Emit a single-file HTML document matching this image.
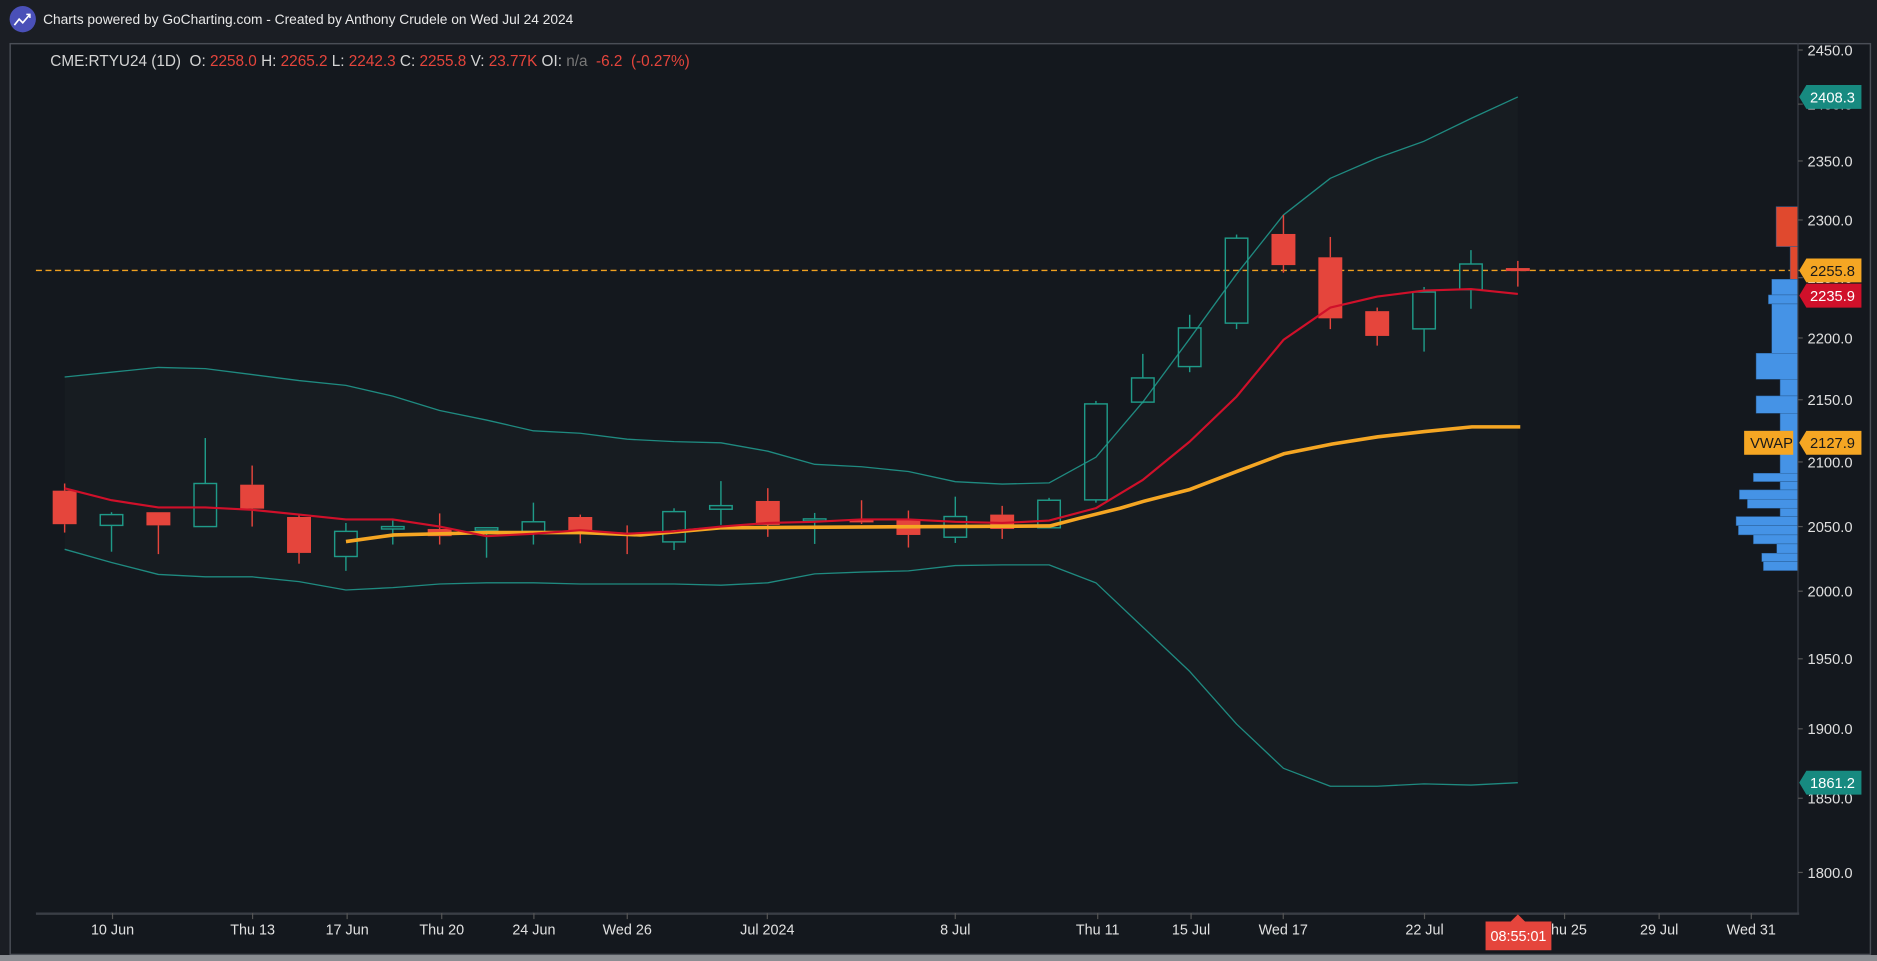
<!DOCTYPE html>
<html><head><meta charset="utf-8"><style>
html,body{margin:0;padding:0;background:#1b1e24;overflow:hidden}
svg{display:block}
text{font-family:"Liberation Sans",sans-serif}
</style></head><body>
<svg id="s" width="1877" height="961" viewBox="0 0 1568 803" preserveAspectRatio="none" xmlns="http://www.w3.org/2000/svg">
<rect x="0" y="0" width="1568" height="803" fill="#1b1e24"/>
<rect x="8.5" y="36.5" width="1554" height="761" fill="#14181e" stroke="#4a4e56" stroke-width="1.2"/>
<rect x="0" y="798" width="1568" height="5" fill="#8a8d92"/>
<circle cx="19" cy="16" r="11" fill="#4a50b8"/>
<polyline points="12,21 16,16 19,19 25,12" fill="none" stroke="#fff" stroke-width="1.4"/>
<polyline points="22,12 25,12 25,15" fill="none" stroke="#fff" stroke-width="1.2"/>
<text x="36" y="20" font-size="11.5" fill="#e8e8e8">Charts powered by GoCharting.com - Created by Anthony Crudele on Wed Jul 24 2024</text>
<g id="g"></g>
<text x="42" y="55" font-size="12.8" fill="#d4d4d4" xml:space="preserve">CME:RTYU24 (1D)  O: <tspan fill="#e5453c">2258.0</tspan> H: <tspan fill="#e5453c">2265.2</tspan> L: <tspan fill="#e5453c">2242.3</tspan> C: <tspan fill="#e5453c">2255.8</tspan> V: <tspan fill="#e5453c">23.77K</tspan> OI: <tspan fill="#777">n/a</tspan>  <tspan fill="#e5453c">-6.2  (-0.27%)</tspan></text>
</svg>
<script>
var g=document.getElementById('g'),NS='http://www.w3.org/2000/svg';
function el(t,a,txt){var e=document.createElementNS(NS,t);for(var k in a)e.setAttribute(k,a[k]);if(txt)e.textContent=txt;g.appendChild(e);return e;}
var X=[];for(var i=0;i<32;i++)X.push(54+39.16*i);
var up=[315,311,307,308,313,318,322,331,343,351,360,362,367,369,370,377,388,390,394,402.5,404.5,403.5,382,336,283,229,179.6,149,132,118,99,81];
var lo=[459,470,480,482,482,486,493,491,488,487,487,488,488,488,489,487,479.5,478,477,472.6,472,472,487,524,561,605,642,657,657,655,656,654];
var mid=[408,418,424,424,426,430,434,434,440,448,446,443,446,444,440,437,436,434,434,436,437,435,424.6,401,369,331.4,284,257,247.8,242.8,241.5,245.6];
var pts=X.map(function(x,i){return x+','+up[i]}).join(' ')+' '+X.slice().reverse().map(function(x,i){return x+','+lo[31-i]}).join(' ');
el('polygon',{points:pts,fill:'#171c21'});
el('line',{x1:30,y1:226,x2:1503,y2:226,stroke:'#f0a020','stroke-width':1.2,'stroke-dasharray':'5,3'});
function pl(xs,ys,c,w){el('polyline',{points:xs.map(function(x,i){return x+','+ys[i]}).join(' '),fill:'none',stroke:c,'stroke-width':w,'stroke-linejoin':'round'});}
pl(X,up,'#1f8a80',1.1);pl(X,lo,'#1f8a80',1.1);
var C=[[410,438,404,445,1],[430,439,428,461,0],[428,439,428,463,1],[404,440,366,440,0],[405,425,389,440,1],[432,462,430,471,1],[444,465,437,477,0],[440,442,435,455,0],[442,448,429,455,1],[441,443,441,466,0],[436,444,420,455,0],[432,445,430,454,1],[445,447,439,463,1],[427.5,452.8,424.7,459.6,0],[422.5,425.5,402,438.6,0],[418.6,438.6,407.9,448.6,1],[433.6,435.3,428.6,454.5,0],[434,436.5,418,437.8,1],[434.4,447,426.6,457.5,1],[431.6,448.9,415,453.7,0],[430,442,422.7,450.3,1],[418,441,416,441,0],[337.5,417.7,335,420,0],[315.8,336,295.7,337,0],[274,306.3,263,311,0],[199,270,196,275,0],[195.5,221.5,179.6,227.8,1],[215,266,198,275,1],[260,280.7,257,288.8,1],[244,274.8,239.8,293.8,0],[220.6,242,209,258,0],[224,226.5,218,239.5,1]];
C.forEach(function(c,i){var x=X[i],col=c[4]?'#e5453c':'#1f9a88';
 el('line',{x1:x,y1:c[2],x2:x,y2:c[0],stroke:col,'stroke-width':1.2});
 el('line',{x1:x,y1:c[1],x2:x,y2:c[3],stroke:col,'stroke-width':1.2});
 if(c[4])el('rect',{x:x-10,y:c[0],width:20,height:Math.max(c[1]-c[0],2),fill:col});
 else el('rect',{x:x-9.4,y:c[0],width:18.8,height:Math.max(c[1]-c[0],1.5),fill:'none',stroke:col,'stroke-width':1.2});
});
var vx=[289,329,368,408,446,486,535,603,877,902,936,955,994,1033,1073,1113,1151,1190,1229.6,1270];
var vy=[452.5,447,446,445,445,445,447,441,439.5,433,424.6,419,409,394,379,371,365,360.6,356.7,356.7];
pl(vx,vy,'#f5a623',3);
pl(X,mid,'#d0102a',1.8);
var vp=[[298,345,215,0],[345,372,205,0],[372,520,215,0],[520,598,168,0],[598,648,240,0],[648,700,168,0],[700,880,240,0],[880,905,160,0],[905,930,240,0],[930,958,118,0],[958,985,142,0],[985,1010,240,0],[1010,1037,108,0],[1037,1065,115,0],[1065,1092,160,0],[1092,1120,230,0],[1120,1145,185,0],[1145,1172,190,0],[80,200,228,1],[200,298,270,1]];
vp.forEach(function(b){var x=(1700+b[2]/3)/1.197,y0=(180+b[0]/3)/1.197,y1=(180+b[1]/3)/1.197;
 el('rect',{x:x,y:y0,width:1502-x,height:y1-y0,fill:b[3]?'#e0492e':'#4593e6',stroke:'#2a5f99','stroke-width':0.4});});
el('line',{x1:1502,y1:36,x2:1502,y2:764,stroke:'#3a3e46','stroke-width':1});
var ax=[[2450,41.8],[2400,87],[2350,134.5],[2300,183.8],[2250,232],[2200,282.4],[2150,334],[2100,386],[2050,440],[2000,494],[1950,550.5],[1900,609],[1850,667],[1800,729]];
ax.forEach(function(a){el('line',{x1:1502,y1:a[1],x2:1506,y2:a[1],stroke:'#555','stroke-width':1});
 el('text',{x:1510,y:a[1]+4.5,'font-size':12.3,fill:'#e0e0e0'},a[0].toFixed(1));});
function tag(y,txt,bg,fg){el('polygon',{points:'1503,'+y+' 1509,'+(y-10)+' 1555,'+(y-10)+' 1555,'+(y+10)+' 1509,'+(y+10),fill:bg});
 el('text',{x:1512,y:y+4.5,'font-size':12.3,fill:fg},txt);}
tag(81,'2408.3','#178a80','#fff');tag(654,'1861.2','#178a80','#fff');
tag(226,'2255.8','#f5a623','#1a1a1a');tag(247,'2235.9','#d0102a','#fff');tag(370,'2127.9','#f5a623','#1a1a1a');
el('rect',{x:1457,y:360,width:41,height:20,fill:'#f5a623'});
el('text',{x:1462,y:374.5,'font-size':12.3,fill:'#1a1a1a'},'VWAP');
el('line',{x1:30,y1:763.5,x2:1503,y2:763.5,stroke:'#3a3e46','stroke-width':2});
var tl=[['10 Jun',94],['Thu 13',211],['17 Jun',290],['Thu 20',369],['24 Jun',446],['Wed 26',524],['Jul 2024',641],['8 Jul',798],['Thu 11',917],['15 Jul',995],['Wed 17',1072],['22 Jul',1190],['Thu 25',1307],['29 Jul',1386],['Wed 31',1463]];
tl.forEach(function(t){el('line',{x1:t[1],y1:763,x2:t[1],y2:768,stroke:'#555'});
 el('text',{x:t[1],y:781,'font-size':12,fill:'#e0e0e0','text-anchor':'middle'},t[0]);});
el('polygon',{points:'1268,764 1274,770 1296,770 1296,794 1241,794 1241,770 1262,770',fill:'#e5453c'});
el('text',{x:1268.5,y:786.5,'font-size':12,fill:'#fff','text-anchor':'middle'},'08:55:01');
</script>
</body></html>
